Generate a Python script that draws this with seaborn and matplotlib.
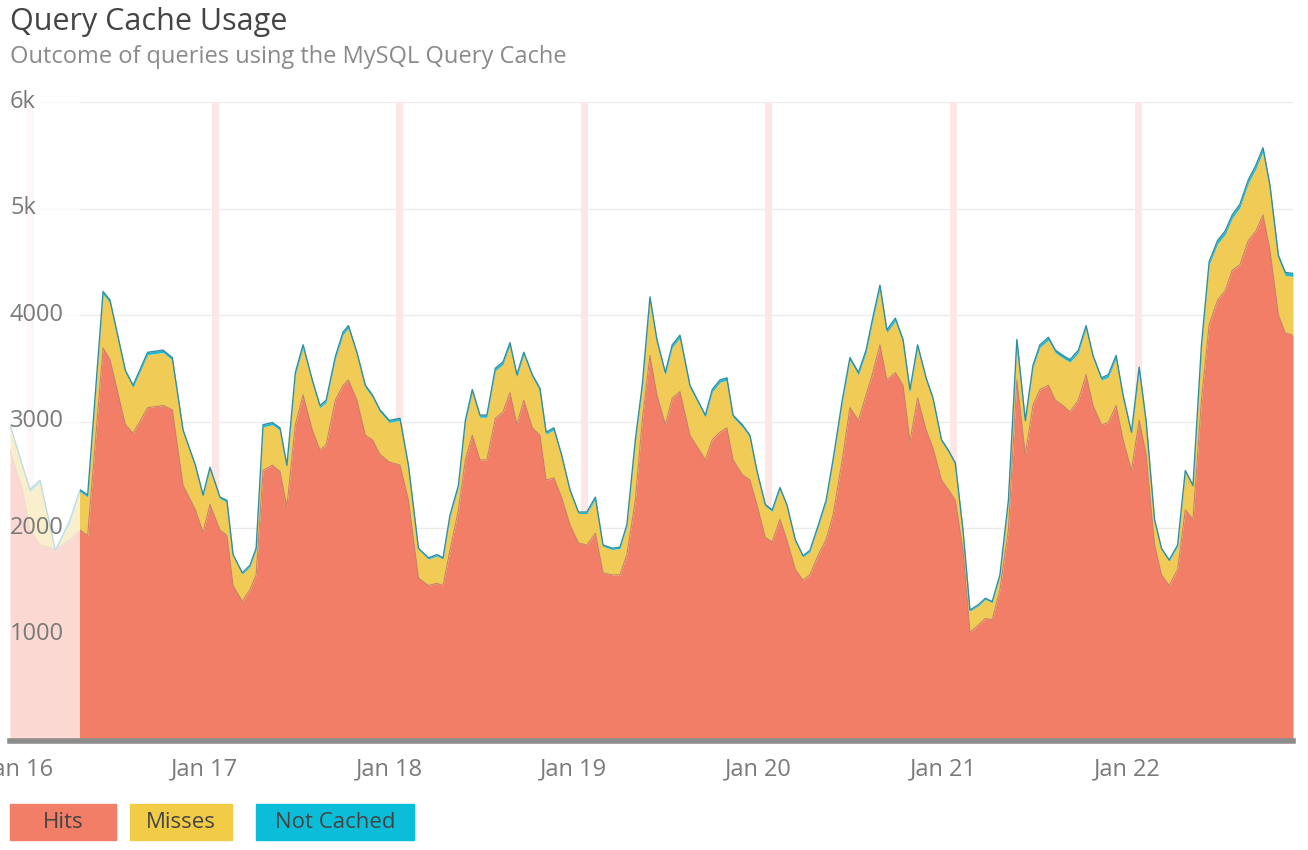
import numpy as np
import pandas as pd
import matplotlib.pyplot as plt
import seaborn as sns

# hours since Jan 16 00:00
hours = [-2.6, -1.0, 0, 1.3, 3.3, 5.2, 6.5, 7.5, 9.5, 10.4, 12.4, 13.4, 15.3, 17.3, 18.5, 19.9, 21.5, 22.5, 23.4,
         24.7, 25.6, 26.4, 27.6, 28.6, 29.4, 30.3, 31.5, 32.5, 33.4, 34.5, 35.5, 36.7, 37.7, 38.5, 39.7, 40.7, 41.4,
         42.5, 43.6, 44.5, 45.5, 46.7, 48.1, 49.2, 50.5, 51.8, 52.9, 53.7, 54.6, 55.7, 56.6, 57.5, 58.5, 59.4, 60.5,
         61.5, 62.4, 63.3, 64.2, 65.3, 66.3, 67.1, 68.1, 69.1, 70.2, 71.3, 72.4, 73.5, 74.5, 75.7, 76.7, 77.6, 78.7,
         79.6, 80.6, 81.5, 82.6, 83.5, 84.5, 85.8, 87.8, 88.7, 89.7, 90.6, 91.4, 92.6, 93.6, 94.5, 95.6, 96.5, 97.5,
         98.4, 99.5, 100.5, 101.4, 102.5, 103.5, 104.4, 105.6, 106.6, 107.7, 108.7, 109.5, 110.5, 111.4, 112.5,
         113.5, 114.4, 115.4, 116.5, 117.4, 118.5, 119.4, 120.3, 121.3, 122.2, 123.3, 124.2, 125.1, 126.1, 127.2,
         128.3, 129.4, 130.4, 131.3, 132.4, 133.3, 134.3, 135.2, 136.3, 137.3, 138.2, 139.3, 140.2, 141.2, 142.1,
         143.2, 144.2, 145.1, 146.2, 147.1, 148.1, 149.2, 150.2, 151.2, 152.3, 153.3, 154.4, 155.4, 156.3, 157.3,
         158.4, 159.4, 160.3, 161.2, 162.3, 163.2, 164.2]

# total (hits + misses + not cached)
total = [2970, 2590, 2360, 2450, 1790, 2075, 2360, 2310, 4220, 4140, 3480, 3340, 3650, 3670, 3600, 2920, 2590, 2310,
         2570, 2290, 2260, 1750, 1580, 1650, 1810, 2970, 2990, 2940, 2590, 3460, 3720, 3390, 3150, 3200, 3610, 3840,
         3900, 3650, 3340, 3250, 3110, 3010, 3030, 2590, 1810, 1720, 1750, 1720, 2120, 2400, 3010, 3300, 3060, 3060,
         3500, 3560, 3740, 3440, 3650, 3440, 3310, 2900, 2940, 2690, 2360, 2150, 2150, 2290, 1840, 1810, 1820, 2030,
         2830, 3340, 4170, 3770, 3460, 3720, 3810, 3340, 3060, 3300, 3390, 3410, 3060, 2970, 2870, 2540, 2220, 2170,
         2380, 2220, 1890, 1740, 1790, 2030, 2260, 2640, 3200, 3600, 3460, 3670, 3950, 4280, 3860, 3970, 3770, 3300,
         3720, 3410, 3220, 2830, 2730, 2610, 1980, 1230, 1280, 1340, 1310, 1560, 2260, 3770, 3010, 3530, 3720, 3790,
         3670, 3620, 3580, 3670, 3900, 3620, 3410, 3440, 3620, 3250, 2900, 3510, 3010, 2080, 1810, 1700, 1840, 2540,
         2400, 3720, 4500, 4700, 4790, 4940, 5040, 5270, 5410, 5570, 5220, 4560, 4400, 4390]

hits = [2730, 2360, 1980, 1840, 1800, 1890, 1980, 1930, 3690, 3580, 2970, 2890, 3130, 3150, 3110, 2400, 2170, 1960,
        2220, 1980, 1930, 1460, 1310, 1420, 1560, 2540, 2590, 2530, 2200, 2970, 3250, 2920, 2730, 2780, 3200, 3340,
        3390, 3200, 2870, 2830, 2690, 2620, 2590, 2260, 1530, 1460, 1480, 1460, 1790, 2170, 2640, 2870, 2640, 2640,
        3030, 3090, 3270, 2970, 3200, 2940, 2870, 2450, 2470, 2290, 2030, 1860, 1840, 1950, 1580, 1560, 1560, 1750,
        2260, 3010, 3620, 3250, 2970, 3220, 3280, 2870, 2640, 2830, 2900, 2940, 2640, 2500, 2450, 2220, 1910, 1870,
        2080, 1890, 1610, 1510, 1560, 1750, 1890, 2120, 2640, 3130, 3010, 3250, 3440, 3720, 3390, 3460, 3340, 2810,
        3220, 2920, 2750, 2450, 2360, 2260, 1790, 1020, 1090, 1150, 1140, 1420, 1980, 3390, 2690, 3150, 3300, 3340,
        3200, 3150, 3090, 3200, 3440, 3150, 2970, 2990, 3150, 2830, 2540, 3010, 2690, 1840, 1560, 1460, 1610, 2170,
        2080, 3200, 3910, 4140, 4230, 4420, 4470, 4700, 4790, 4940, 4610, 4000, 3830, 3810]

not_cached = [15, 15, 18, 15, 12, 15, 18, 18, 25, 25, 20, 20, 22, 22, 22, 18, 16, 15,
              16, 15, 15, 12, 12, 12, 14, 20, 20, 20, 16, 22, 24, 22, 20, 20, 22, 24,
              25, 22, 20, 20, 20, 18, 18, 16, 12, 12, 12, 12, 14, 16, 20, 22, 20, 20,
              22, 22, 24, 22, 22, 22, 20, 18, 18, 16, 15, 14, 14, 15, 12, 12, 12, 14,
              18, 22, 26, 24, 22, 24, 24, 22, 20, 22, 22, 22, 20, 20, 18, 16, 14, 14,
              15, 14, 12, 12, 12, 14, 15, 18, 22, 24, 22, 24, 25, 28, 25, 25, 24, 22,
              24, 22, 20, 18, 18, 16, 14, 10, 10, 10, 10, 12, 15, 24, 20, 22, 24, 24,
              24, 24, 22, 24, 25, 24, 22, 22, 24, 20, 18, 22, 20, 14, 12, 12, 12, 16,
              16, 24, 28, 30, 30, 30, 30, 32, 32, 34, 32, 28, 28, 28]

day_labels = ["Jan 16", "Jan 17", "Jan 18", "Jan 19", "Jan 20", "Jan 21", "Jan 22"]
y_ticks = [1000, 2000, 3000, 4000, 5000, 6000]
y_labels = ["1000", "2000", "3000", "4000", "5k", "6k"]

df = pd.DataFrame({"hour": hours, "total": total, "hits": hits, "nc": not_cached})
df["misses_top"] = df["total"] - df["nc"]

c_hits, c_miss, c_nc = "#F27E67", "#F0CB55", "#1FB8D3"
txt = "#7a7a7a"
sns.set_style("white")
plt.rcParams["font.family"] = "Open Sans"

fig = plt.figure(figsize=(13.08, 8.5), dpi=100)
ax = fig.add_axes([10 / 1308, 1 - 741 / 850, 1283 / 1308, (741 - 102) / 850])

x0, x1 = -2.6, 164.2
ax.fill_between(df["hour"], 0, df["hits"], color=c_hits, lw=0, zorder=2)
ax.fill_between(df["hour"], df["hits"], df["misses_top"], color=c_miss, lw=0, zorder=2)
ax.fill_between(df["hour"], df["misses_top"], df["total"], color=c_nc, lw=0, zorder=2)
sns.lineplot(data=df, x="hour", y="hits", color="#c8826a", lw=0.8, ax=ax, zorder=3)
sns.lineplot(data=df, x="hour", y="total", color="#2f8fa0", lw=1.0, ax=ax, zorder=3)

# faded region before the selected window
ax.axvspan(x0, 6.5, color="white", alpha=0.7, lw=0, zorder=4)

for k in range(len(day_labels)):
    ax.axvline(k * 24, color="#fde6e6", lw=5, zorder=1)
for v, lab in zip(y_ticks, y_labels):
    ax.axhline(v, color="#ebebeb", lw=1, zorder=0)
    ax.text(0.0, v, lab, transform=ax.get_yaxis_transform(), fontsize=17, color=txt,
            ha="left", va="center", zorder=5)

ax.set_xlim(x0, x1)
ax.set_ylim(0, 6000)
ax.set_yticks([])
ticks = [k * 24 - 1.3 for k in range(len(day_labels))]
ax.set_xticks(ticks)
ax.set_xticklabels(day_labels, fontsize=17, color=txt)
ax.tick_params(axis="x", length=6, width=3, color="#8c8c8c", pad=6)
ax.set_xlabel("")
ax.set_ylabel("")
for s in ["top", "right", "left"]:
    ax.spines[s].set_visible(False)
ax.spines["bottom"].set_color("#8c8c8c")
ax.spines["bottom"].set_linewidth(4)
ax.spines["bottom"].set_zorder(6)

fig.text(10 / 1308, 1 - 22 / 850, "Query Cache Usage", fontsize=22, color="#444444", va="center")
fig.text(10 / 1308, 1 - 57 / 850, "Outcome of queries using the MySQL Query Cache", fontsize=17,
         color="#8a8a8a", va="center")

legend = [("Hits", c_hits, 10, 106), ("Misses", "#F2CC47", 130, 102), ("Not Cached", "#0BBDD9", 256, 158)]
for name, col, lx, w in legend:
    fig.patches.append(plt.Rectangle((lx / 1308, 1 - 840 / 850), w / 1308, 36 / 850,
                                     transform=fig.transFigure, color=col))
    fig.text((lx + w / 2) / 1308, 1 - 822 / 850, name, fontsize=16, color="#444444",
             ha="center", va="center")

fig.savefig("out.png", dpi=100)
